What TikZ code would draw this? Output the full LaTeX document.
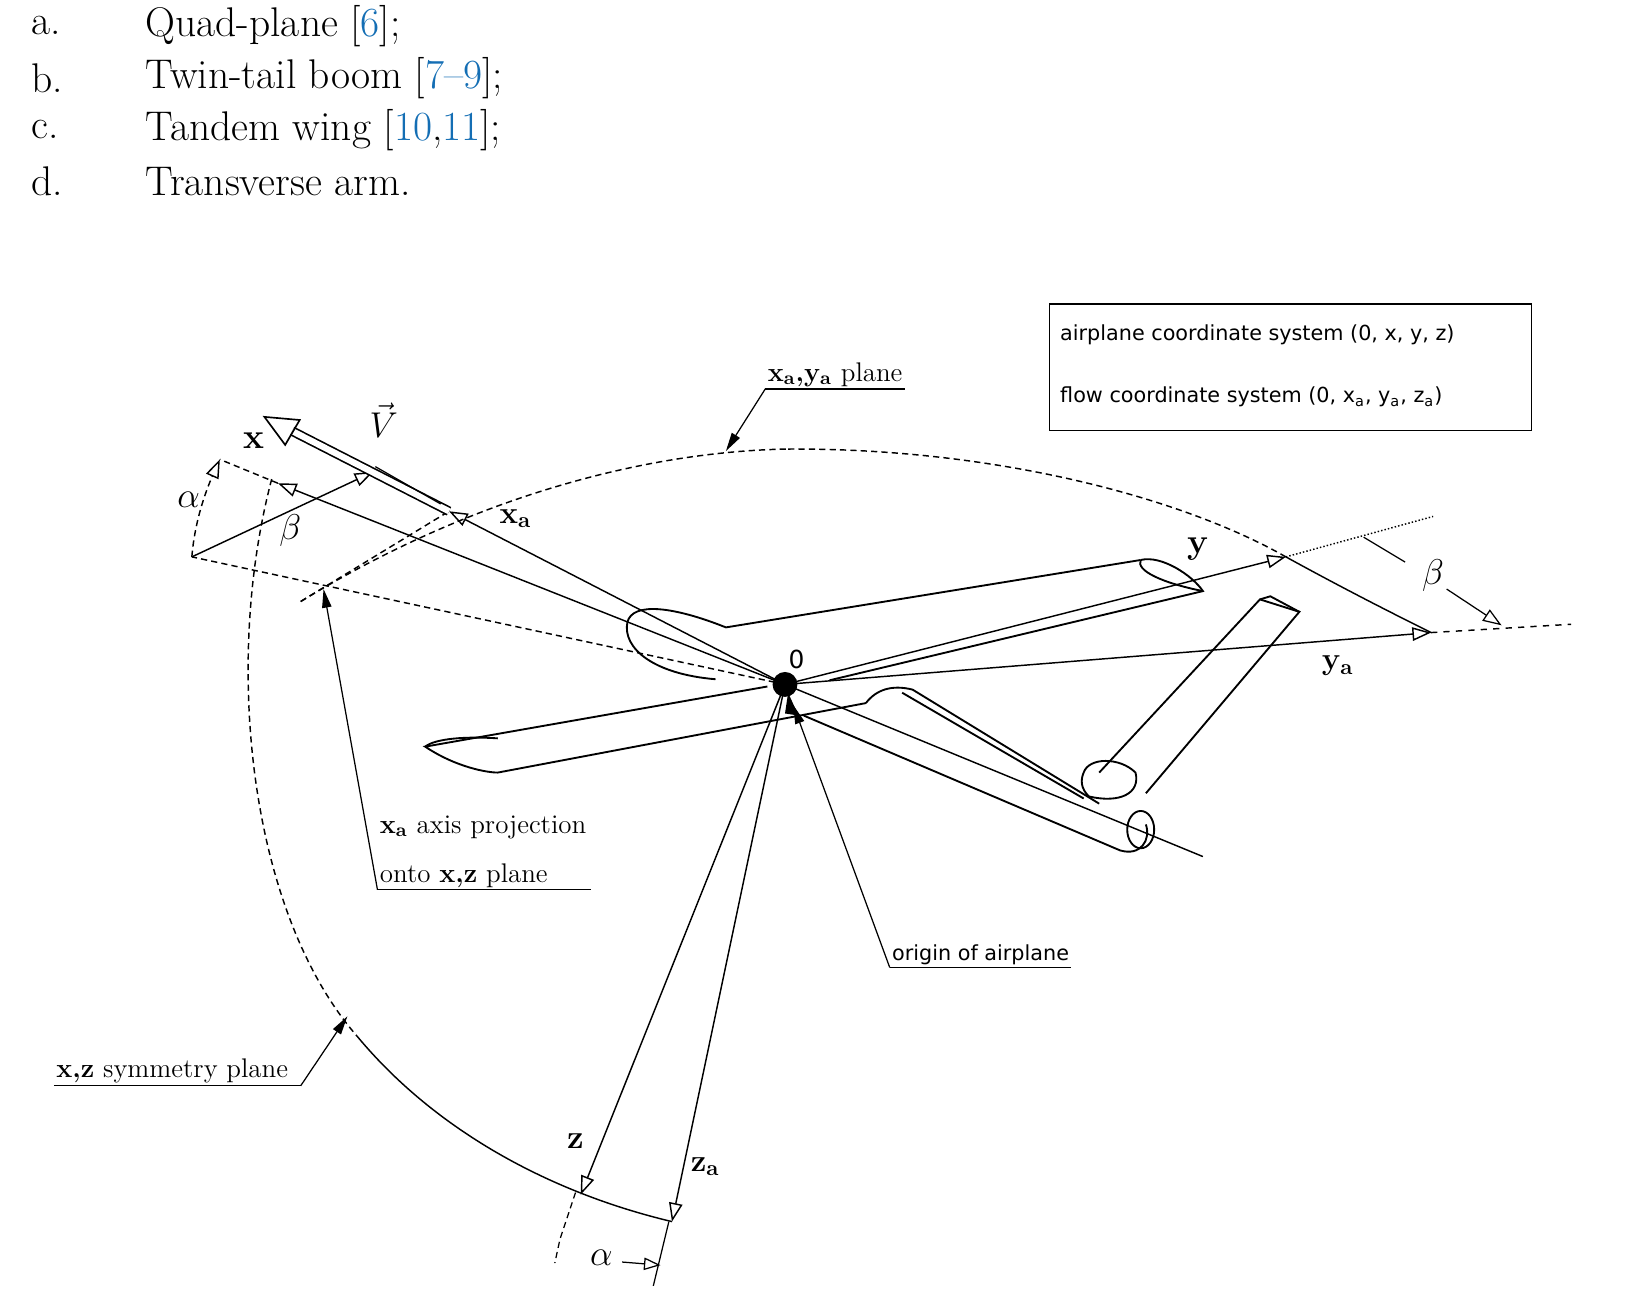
\documentclass[tikz,border=0pt]{standalone}
\usepackage{fontspec}
\usepackage{xcolor}
\usetikzlibrary{arrows.meta,calc}
\newfontfamily\boxfont{DejaVu Sans}
\definecolor{citeblue}{RGB}{20,110,180}
\tikzset{
	axis/.style={line width=0.7pt,-{Triangle[open,length=9pt,width=6.5pt]}},
	leader/.style={line width=0.6pt,-{Triangle[length=9pt,width=4.5pt]}},
	plane/.style={line width=0.7pt},
	hull/.style={line width=0.9pt},
	lbl/.style={font=\fontsize{13}{15}\selectfont,inner sep=1pt},
	sans/.style={font=\boxfont\fontsize{10}{12}\selectfont,inner sep=1pt},
	head/.style={font=\fontsize{20}{24}\selectfont,anchor=west,inner sep=0pt}
}
\begin{document}
\begin{tikzpicture}[x=0.5pt,y=0.5pt,yscale=-1,xscale=1]
	\useasboundingbox (0,0) rectangle (1568,1255);

	% list above the figure
	\foreach \k/\t [count=\i] in {a./{Quad-plane [\textcolor{citeblue}{6}];},b./{Twin-tail boom [\textcolor{citeblue}{7--9}];},c./{Tandem wing [\textcolor{citeblue}{10},\textcolor{citeblue}{11}];},d./{Transverse arm.}}{
		\node [head] at (30,{25+50*(\i-1)}) {\k};
		\node [head] at (140,{25+50*(\i-1)}) {\t};
	}

	% legend box
	\draw [line width=0.7pt] (1012,293) rectangle (1477,415);
	\node [sans,anchor=west] (leg1) at (1020,323) {airplane coordinate system (0, x, y, z)};
	\node [sans,anchor=west] (leg2) at (1020,383) {flow coordinate system (0, x\textsubscript{a}, y\textsubscript{a}, z\textsubscript{a})};

	% origin and axis end points
	\coordinate (O) at (757,660);
	\coordinate (xtip) at (268,466);
	\coordinate (xatip) at (433,493);
	\coordinate (vtip) at (255,402);
	\coordinate (ytip) at (1240,537);
	\coordinate (yend) at (1382,498);
	\coordinate (yatip) at (1380,610);
	\coordinate (yaend) at (1515,602);
	\coordinate (ztip) at (560,1152);
	\coordinate (zatip) at (648,1178);
	\coordinate (P) at (185,537);
	\coordinate (Q) at (290,580);
	\coordinate (rear) at (1160,826);

	% planes
	\draw [plane,densely dashed] (262,462) .. controls (215,640) and (240,880) .. (345,1000);
	\draw [plane] (345,1000) .. controls (420,1090) and (530,1150) .. (zatip);
	\draw [plane,densely dashed] (Q) .. controls (470,470) and (640,435) .. (760,433);
	\draw [plane,densely dashed] (760,433) .. controls (960,432) and (1140,480) .. (1240,537);
	\draw [plane] (1240,537) .. controls (1300,570) and (1350,595) .. (yatip);

	% airplane
	\draw [hull] (605,600) .. controls (610,580) and (650,585) .. (700,605) -- (1100,540);
	\draw [hull] (605,600) .. controls (600,625) and (630,650) .. (690,655);
	\draw [hull] (1100,540) .. controls (1120,535) and (1150,555) .. (1160,570) -- (800,656);
	\draw [hull] (1100,540) .. controls (1095,550) and (1120,562) .. (1160,570);
	\draw [hull] (740,662) -- (410,720) .. controls (440,740) and (470,745) .. (480,745) -- (835,678);
	\draw [hull] (410,720) .. controls (420,712) and (450,710) .. (480,712);
	\draw [hull] (835,678) .. controls (845,665) and (860,660) .. (880,665) -- (1060,775);
	\draw [hull] (870,668) -- (1045,770);
	\draw [hull] (775,690) -- (1080,820) .. controls (1100,826) and (1110,810) .. (1105,795);
	\draw [hull] (1100,800) ellipse [x radius=13,y radius=18];
	\draw [hull] (1045,745) .. controls (1050,730) and (1080,730) .. (1095,745) .. controls (1100,765) and (1080,775) .. (1050,768) .. controls (1042,760) and (1042,752) .. (1045,745);
	\draw [hull] (1060,745) -- (1215,578) -- (1253,590) -- (1105,765);
	\draw [hull] (1215,578) -- (1225,575) -- (1253,590);

	% axes of both systems
	\draw [axis] (O) -- (xtip);
	\draw [line width=0.7pt,densely dashed] (xtip) -- (212,443);
	\draw [axis] (O) -- (xatip);
	\draw [axis] (O) -- (ytip);
	\draw [line width=0.7pt,densely dotted] (ytip) -- (yend);
	\draw [axis] (O) -- (yatip);
	\draw [line width=0.7pt,dashed] (yatip) -- (yaend);
	\draw [axis] (O) -- (ztip);
	\draw [axis] (O) -- (zatip);
	\draw [line width=0.7pt] (O) -- (rear);
	\draw [line width=0.7pt,densely dashed] (O) -- (P);
	\draw [axis] (P) -- (360,455);
	\draw [line width=0.7pt,densely dashed] (Q) -- (xatip);
	\draw [axis,densely dashed] (P) .. controls (188,500) and (200,470) .. (212,443);

	% velocity vector
	\draw [line width=0.8pt,double,double distance=3pt,shorten >=15pt] (xatip) -- (vtip);
	\draw [line width=0.8pt] (vtip) -- (289,405) -- (275,429) -- cycle;
	\draw [line width=0.6pt] (362,450) -- (425,486);

	% angle marks
	\draw [line width=0.6pt] (1315,518) -- (1355,542);
	\draw [line width=0.6pt,-{Triangle[open,length=9pt,width=6.5pt]}] (1395,568) -- (1448,603);
	\draw [line width=0.6pt,densely dashed] (555,1150) -- (540,1195) -- (535,1218);
	\draw [line width=0.6pt] (645,1178) -- (630,1240);
	\draw [line width=0.6pt,-{Triangle[open,length=8pt,width=6pt]}] (600,1217) -- (637,1220);

	% origin dot
	\fill (O) circle [radius=12];
	\fill (760,668) -- (770,690) -- (757,688) -- cycle;
	\node [sans,font=\boxfont\fontsize{12}{14}\selectfont] (Olbl) at (768,636) {0};

	% axis labels
	\node [lbl,font=\bfseries\fontsize{17}{19}\selectfont] (xl) at (245,425) {x};
	\node [lbl,font=\fontsize{16}{18}\selectfont] (Vl) at (370,405) {$\vec{V}$};
	\node [lbl,font=\bfseries\fontsize{15}{17}\selectfont] (xal) at (497,500) {x\textsubscript{a}};
	\node [lbl,font=\fontsize{16}{18}\selectfont] (al1) at (182,482) {$\alpha$};
	\node [lbl,font=\fontsize{16}{18}\selectfont] (bl1) at (280,512) {$\beta$};
	\node [lbl,font=\bfseries\fontsize{17}{19}\selectfont] (yl) at (1155,530) {y};
	\node [lbl,font=\bfseries\fontsize{15}{17}\selectfont] (yal) at (1290,642) {y\textsubscript{a}};
	\node [lbl,font=\fontsize{16}{18}\selectfont] (bl2) at (1382,555) {$\beta$};
	\node [lbl,font=\bfseries\fontsize{16}{18}\selectfont] (zl) at (555,1100) {z};
	\node [lbl,font=\bfseries\fontsize{15}{17}\selectfont] (zal) at (680,1125) {z\textsubscript{a}};
	\node [lbl,font=\fontsize{16}{18}\selectfont] (al2) at (580,1213) {$\alpha$};

	% leaders
	\node [lbl,anchor=south west] (xyp) at (738,375) {\textbf{x\textsubscript{a},y\textsubscript{a}} plane};
	\draw [line width=0.6pt] (xyp.south west) -- (xyp.south east);
	\draw [leader] (xyp.south west) -- (700,435);
	\node [lbl,anchor=south west] (proj1) at (364,811) {\textbf{x\textsubscript{a}} axis projection};
	\node [lbl,anchor=south west] (proj2) at (364,858) {onto \textbf{x,z} plane};
	\draw [line width=0.6pt] (proj2.south west) -- (570,858);
	\draw [leader] (proj2.south west) -- (312,568);
	\node [sans,anchor=south west] (orig) at (858,933) {origin of airplane};
	\draw [line width=0.6pt] (orig.south west) -- (orig.south east);
	\draw [leader] (orig.south west) -- (765,680);
	\node [lbl,anchor=south west] (sym) at (52,1047) {\textbf{x,z} symmetry plane};
	\draw [line width=0.6pt] (sym.south west) -- (290,1047);
	\draw [leader] (290,1047) -- (335,980);
\end{tikzpicture}
\end{document}
